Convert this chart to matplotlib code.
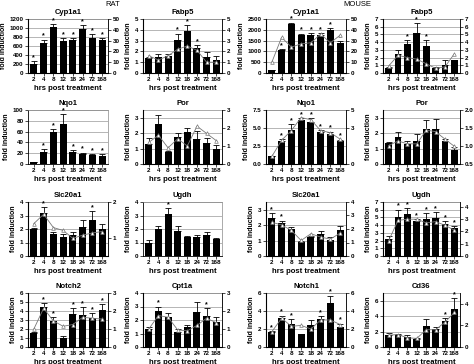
import numpy as np
import matplotlib.pyplot as plt

hours = ['2', '4', '8', '12', '18', '24', '72', '168']

# ---- RAT ----
rat_cyp1a1_bars = [200, 660, 1020, 720, 740, 970, 780, 730]
rat_cyp1a1_err = [60, 80, 60, 60, 40, 100, 90, 50]
rat_cyp1a1_star = [1, 1, 1, 1, 1, 1, 1, 1]

rat_fabp5_bars = [1.4, 1.5, 1.6, 3.1, 3.9, 2.3, 1.5, 1.25]
rat_fabp5_err = [0.1, 0.3, 0.2, 0.55, 0.5, 0.3, 0.4, 0.35]
rat_fabp5_star = [0, 0, 0, 1, 1, 1, 0, 0]
rat_fabp5_line = [1.6, 1.2, 1.6, 2.2, 2.5, 2.1, 1.0, 1.0]

rat_nqo1_bars = [3, 22, 60, 74, 22, 18, 17, 15]
rat_nqo1_err = [0, 5, 4, 18, 4, 3, 2, 3]
rat_nqo1_star = [0, 1, 1, 1, 1, 1, 1, 1]

rat_por_bars = [1.3, 2.6, 0.75, 1.75, 2.1, 1.65, 1.35, 1.0]
rat_por_err = [0.4, 0.6, 0.1, 0.25, 0.25, 0.5, 0.35, 0.25]
rat_por_star = [0, 0, 0, 0, 0, 0, 0, 0]
rat_por_line = [1.2, 1.6, 0.9, 1.4, 1.0, 2.1, 1.7, 1.3]

rat_slc20a1_bars = [2.0, 3.2, 1.6, 1.4, 1.55, 2.15, 2.7, 2.0]
rat_slc20a1_err = [0.05, 0.4, 0.2, 0.2, 0.25, 0.5, 0.65, 0.35]
rat_slc20a1_star = [0, 1, 0, 0, 0, 0, 1, 0]
rat_slc20a1_line = [1.4, 1.66, 1.29, 1.21, 0.99, 1.08, 1.14, 1.18]

rat_ugdh_bars = [1.0, 2.0, 3.1, 1.85, 1.4, 1.4, 1.55, 1.25]
rat_ugdh_err = [0.15, 0.25, 0.45, 0.35, 0.1, 0.15, 0.2, 0.05]
rat_ugdh_star = [0, 0, 1, 0, 0, 0, 0, 0]

rat_notch2_bars = [1.6, 4.5, 2.9, 1.0, 3.65, 3.55, 3.25, 4.1]
rat_notch2_err = [0.1, 0.4, 0.4, 0.2, 0.7, 0.9, 0.5, 0.7]
rat_notch2_star = [0, 1, 1, 0, 1, 1, 1, 1]
rat_notch2_line = [1.0, 2.15, 1.45, 1.15, 1.25, 1.65, 1.6, 1.55]

rat_cpt1a_bars = [1.3, 2.65, 2.25, 1.1, 1.45, 2.6, 2.3, 1.85]
rat_cpt1a_err = [0.2, 0.35, 0.3, 0.25, 0.15, 0.7, 0.6, 0.4]
rat_cpt1a_star = [0, 1, 0, 0, 0, 0, 1, 0]
rat_cpt1a_line = [1.0, 1.75, 1.65, 0.95, 0.9, 1.2, 1.6, 1.35]

# ---- MOUSE ----
mouse_cyp1a1_bars = [130, 1060, 2250, 1760, 1750, 1760, 1990, 1400]
mouse_cyp1a1_err = [0, 60, 80, 60, 90, 100, 80, 60]
mouse_cyp1a1_star = [0, 1, 1, 1, 1, 1, 1, 1]
mouse_cyp1a1_line = [10, 33, 24, 27, 28, 36, 28, 35]

mouse_fabp5_bars = [0.7, 2.4, 3.8, 5.2, 3.5, 0.7, 1.1, 1.65]
mouse_fabp5_err = [0.1, 0.6, 0.5, 1.3, 0.8, 0.1, 0.6, 0.0]
mouse_fabp5_star = [0, 0, 1, 1, 1, 0, 0, 0]
mouse_fabp5_line = [0.9, 2.3, 2.0, 1.8, 1.2, 0.6, 0.8, 2.5]

mouse_nqo1_bars = [1.1, 3.2, 4.7, 6.1, 5.8, 4.4, 4.1, 3.2]
mouse_nqo1_err = [0, 0.3, 0.8, 0.3, 0.6, 0.3, 0.4, 0.2]
mouse_nqo1_star = [0, 1, 1, 1, 1, 1, 1, 1]
mouse_nqo1_line = [0.7, 2.2, 3.1, 4.3, 4.1, 3.1, 2.9, 2.3]

mouse_por_bars = [1.35, 1.75, 1.3, 1.5, 2.3, 2.25, 1.5, 0.9]
mouse_por_err = [0.1, 0.35, 0.2, 0.45, 0.55, 0.65, 0.1, 0.2]
mouse_por_star = [0, 0, 0, 0, 0, 0, 0, 0]
mouse_por_line = [1.01, 1.14, 1.06, 1.06, 1.44, 1.4, 1.19, 0.99]

mouse_slc20a1_bars = [2.45, 2.15, 1.75, 0.9, 1.2, 1.4, 1.05, 1.7]
mouse_slc20a1_err = [0.35, 0.15, 0.15, 0.1, 0.1, 0.2, 0.15, 0.25]
mouse_slc20a1_star = [1, 1, 0, 0, 0, 0, 0, 0]
mouse_slc20a1_line = [2.5, 2.3, 1.9, 1.15, 1.65, 1.4, 1.25, 1.7]

mouse_ugdh_bars = [2.2, 5.0, 5.5, 4.5, 4.8, 4.9, 4.1, 3.6]
mouse_ugdh_err = [0.4, 1.0, 0.7, 0.3, 0.8, 0.8, 0.4, 0.3]
mouse_ugdh_star = [0, 1, 1, 1, 1, 1, 1, 1]
mouse_ugdh_line = [1.25, 2.9, 3.0, 3.0, 2.7, 2.8, 2.5, 2.1]

mouse_notch1_bars = [1.7, 3.2, 2.6, 1.4, 2.5, 3.1, 4.9, 2.2]
mouse_notch1_err = [0.1, 0.3, 0.5, 0.0, 0.5, 0.3, 0.8, 0.4]
mouse_notch1_star = [1, 1, 1, 0, 0, 1, 1, 1]
mouse_notch1_line = [1.7, 3.2, 2.3, 2.4, 2.0, 3.0, 3.0, 2.5]

mouse_cd36_bars = [1.6, 1.55, 1.3, 1.1, 2.7, 2.3, 3.4, 4.9]
mouse_cd36_err = [0.25, 0.1, 0.2, 0.1, 0.9, 0.3, 0.35, 1.4]
mouse_cd36_star = [0, 0, 0, 0, 0, 0, 1, 1]
mouse_cd36_line = [1.1, 1.15, 0.85, 0.8, 1.6, 1.6, 2.3, 3.2]

# title, bars, err, stars, line, left ylim, left ticks, right ylim, right ticks, right labels
panels = [
    [('Cyp1a1', rat_cyp1a1_bars, rat_cyp1a1_err, rat_cyp1a1_star, None,
      1200, range(0, 1201, 200), (0, 50), range(0, 51, 10), None),
     ('Fabp5', rat_fabp5_bars, rat_fabp5_err, rat_fabp5_star, rat_fabp5_line,
      5, range(6), (0, 5), range(6), None),
     ('Cyp1a1', mouse_cyp1a1_bars, mouse_cyp1a1_err, mouse_cyp1a1_star, mouse_cyp1a1_line,
      2500, range(0, 2501, 500), (0, 50), range(0, 51, 10), None),
     ('Fabp5', mouse_fabp5_bars, mouse_fabp5_err, mouse_fabp5_star, mouse_fabp5_line,
      7, range(8), (0, 7), range(8), None)],
    [('Nqo1', rat_nqo1_bars, rat_nqo1_err, rat_nqo1_star, None,
      100, range(0, 101, 20), None, None, None),
     ('Por', rat_por_bars, rat_por_err, rat_por_star, rat_por_line,
      3.5, range(4), (0, 3), range(4), None),
     ('Nqo1', mouse_nqo1_bars, mouse_nqo1_err, mouse_nqo1_star, mouse_nqo1_line,
      7.5, [0, 2.5, 5, 7.5], (0, 5), [0, 10 / 3, 5], ['0', '3', '5']),
     ('Por', mouse_por_bars, mouse_por_err, mouse_por_star, mouse_por_line,
      3.5, range(4), (0.5, 2.0), [0.5, 1.0, 1.5, 2.0], ['0.5', '1.0', '1.5', '2.0'])],
    [('Slc20a1', rat_slc20a1_bars, rat_slc20a1_err, rat_slc20a1_star, rat_slc20a1_line,
      4, range(5), (0.5, 2.0), [1, 2], None),
     ('Ugdh', rat_ugdh_bars, rat_ugdh_err, rat_ugdh_star, None,
      4, range(5), None, None, None),
     ('Slc20a1', mouse_slc20a1_bars, mouse_slc20a1_err, mouse_slc20a1_star, mouse_slc20a1_line,
      3.5, range(4), (0, 4), range(5), None),
     ('Ugdh', mouse_ugdh_bars, mouse_ugdh_err, mouse_ugdh_star, mouse_ugdh_line,
      7, range(8), (0, 4.4), range(5), None)],
    [('Notch2', rat_notch2_bars, rat_notch2_err, rat_notch2_star, rat_notch2_line,
      6, range(7), (0, 3), range(4), None),
     ('Cpt1a', rat_cpt1a_bars, rat_cpt1a_err, rat_cpt1a_star, rat_cpt1a_line,
      4, range(5), (0, 3), range(4), None),
     ('Notch1', mouse_notch1_bars, mouse_notch1_err, mouse_notch1_star, mouse_notch1_line,
      6, [0, 2, 4, 6], (0, 6), [0, 2, 4, 6], None),
     ('Cd36', mouse_cd36_bars, mouse_cd36_err, mouse_cd36_star, mouse_cd36_line,
      7, [0, 2, 4, 6], (0, 5), [0, 2, 4], None)],
]

W, H = 474, 364
col_px = [(28, 108), (143, 222), (266, 346), (383, 460)]
row_px = [(19, 73), (110, 164), (202, 256), (293, 347)]

plt.rcParams['font.family'] = 'Liberation Sans'
plt.rcParams['font.weight'] = 'bold'
fig = plt.figure(figsize=(W / 100, H / 100), dpi=100)

x = np.arange(len(hours))
for r, row in enumerate(panels):
    for c, p in enumerate(row):
        title, bars, err, star, line, ytop, yt, ry, rt, rl = p
        l, rr = col_px[c]
        t, b = row_px[r]
        ax = fig.add_axes([l / W, 1 - b / H, (rr - l) / W, (b - t) / H])
        ax.set_axisbelow(True)
        ax.yaxis.grid(True, color='#999999', lw=0.5)
        ax.bar(x, bars, width=0.72, color='black', zorder=2)
        ax.errorbar(x, bars, yerr=[np.zeros(len(err)), err], fmt='none',
                    ecolor='black', elinewidth=0.6, capsize=2, capthick=0.6, zorder=2)
        for i in range(len(bars)):
            if star[i]:
                ax.text(i, bars[i] + err[i], '*', ha='center',
                        va='bottom', fontsize=5, fontweight='bold')
        ax.set_xlim(-0.6, len(hours) - 0.4)
        ax.set_ylim(0, ytop)
        ax.set_yticks(list(yt))
        ax.set_xticks(x)
        ax.set_xticklabels(hours)
        ax.tick_params(labelsize=4.5, length=2, width=0.5, pad=1.2)
        ax.set_title(title, fontsize=5.5, fontweight='bold', pad=3.5)
        ax.set_ylabel('fold induction', fontsize=5, fontweight='bold', labelpad=2)
        ax.set_xlabel('hrs post treatment', fontsize=5.5, fontweight='bold', labelpad=1.5)
        for s in ['left', 'bottom']:
            ax.spines[s].set_linewidth(0.6)
        for s in ['top', 'right']:
            ax.spines[s].set_color('#888888')
            ax.spines[s].set_linewidth(0.5)
        if ry is not None:
            ax2 = ax.twinx()
            ax2.set_ylim(*ry)
            ax2.set_yticks(list(rt))
            if rl is not None:
                ax2.set_yticklabels(rl)
            ax2.tick_params(labelsize=4.5, length=2, width=0.5, pad=1.2)
            ax2.spines['right'].set_linewidth(0.6)
            ax2.spines['top'].set_visible(False)
            if line is not None:
                ax2.plot(x, line, color='#777777', lw=0.6, marker='^', ms=2.6,
                         mfc='white', mec='#777777', mew=0.5, zorder=3)

fig.text(113 / W, 1 - 5 / H, 'RAT', fontsize=5.5, fontweight='normal', ha='center', va='center')
fig.text(357 / W, 1 - 5 / H, 'MOUSE', fontsize=5.5, fontweight='normal', ha='center', va='center')

fig.savefig('out.png', dpi=100)
